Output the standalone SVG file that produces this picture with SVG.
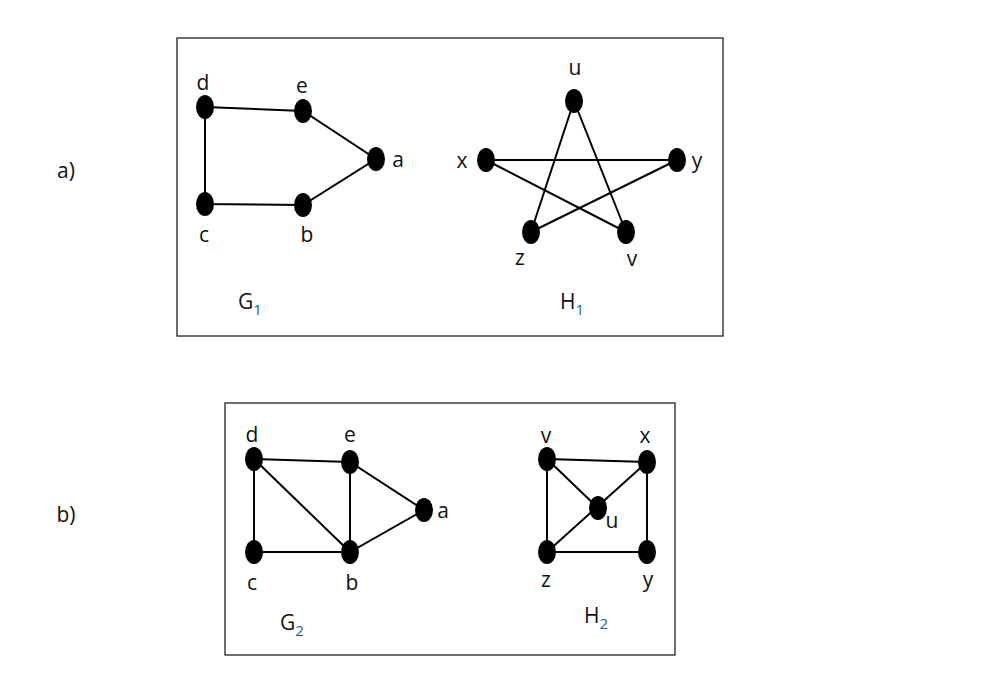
<svg xmlns="http://www.w3.org/2000/svg" width="997" height="684" viewBox="0 0 997 684">
<style>
.box{fill:none;stroke:#222;stroke-width:1.3}
.n{fill:#000}
.e{stroke:#000;stroke-width:2;fill:none}
text{font-family:"Open Sans","Liberation Sans",sans-serif;font-size:21px;fill:#111;text-anchor:middle}
.s{font-size:15px;fill:#2060a0}
</style>
<rect width="997" height="684" fill="#fff"/>
<text x="66" y="178">a)</text>
<text x="66" y="522">b)</text>
<rect class="box" x="177" y="38" width="546" height="298"/>
<rect class="box" x="225" y="403" width="450" height="252"/>
<g id="connectors">
<path class="e" d="M205,107 L303,111 L376,159 L303,205 L205,204 Z"/>
<path class="e" d="M574,101 L531,232 M574,101 L626,232 M486,160 L677,160 M486,160 L626,232 M677,160 L531,232"/>
<path class="e" d="M254,459 L350,462 L424,510 L350,552 L254,552 Z M254,459 L350,552 M350,462 L350,552"/>
<path class="e" d="M547,459 L647,462 L647,552 L547,552 Z M547,459 L598,508 M647,462 L547,552"/>
</g>
<g id="G1-d"><ellipse class="n" cx="205" cy="107" rx="9" ry="12"/><text x="203" y="90">d</text></g>
<g id="G1-e"><ellipse class="n" cx="303" cy="111" rx="9" ry="12"/><text x="302" y="93">e</text></g>
<g id="G1-a"><ellipse class="n" cx="376" cy="159" rx="9" ry="12"/><text x="398" y="167">a</text></g>
<g id="G1-b"><ellipse class="n" cx="303" cy="205" rx="9" ry="12"/><text x="307" y="242">b</text></g>
<g id="G1-c"><ellipse class="n" cx="205" cy="204" rx="9" ry="12"/><text x="204" y="242">c</text></g>
<g id="G1-label"><text x="250" y="309">G<tspan class="s" dy="6">1</tspan></text></g>
<g id="H1-u"><ellipse class="n" cx="574" cy="101" rx="9" ry="12"/><text x="575" y="75">u</text></g>
<g id="H1-x"><ellipse class="n" cx="486" cy="160" rx="9" ry="12"/><text x="462" y="168">x</text></g>
<g id="H1-y"><ellipse class="n" cx="677" cy="160" rx="9" ry="12"/><text x="697" y="168">y</text></g>
<g id="H1-z"><ellipse class="n" cx="531" cy="232" rx="9" ry="12"/><text x="520" y="265">z</text></g>
<g id="H1-v"><ellipse class="n" cx="626" cy="232" rx="9" ry="12"/><text x="632" y="266">v</text></g>
<g id="H1-label"><text x="572" y="309">H<tspan class="s" dy="6">1</tspan></text></g>
<g id="G2-d"><ellipse class="n" cx="254" cy="459" rx="9" ry="12"/><text x="252" y="442">d</text></g>
<g id="G2-e"><ellipse class="n" cx="350" cy="462" rx="9" ry="12"/><text x="350" y="442">e</text></g>
<g id="G2-a"><ellipse class="n" cx="424" cy="510" rx="9" ry="12"/><text x="443" y="518">a</text></g>
<g id="G2-c"><ellipse class="n" cx="254" cy="552" rx="9" ry="12"/><text x="252" y="590">c</text></g>
<g id="G2-b"><ellipse class="n" cx="350" cy="552" rx="9" ry="12"/><text x="352" y="590">b</text></g>
<g id="G2-label"><text x="292" y="630">G<tspan class="s" dy="6">2</tspan></text></g>
<g id="H2-v"><ellipse class="n" cx="547" cy="459" rx="9" ry="12"/><text x="546" y="443">v</text></g>
<g id="H2-x"><ellipse class="n" cx="647" cy="462" rx="9" ry="12"/><text x="645" y="443">x</text></g>
<g id="H2-u"><ellipse class="n" cx="598" cy="508" rx="9" ry="12"/><text x="612" y="528">u</text></g>
<g id="H2-z"><ellipse class="n" cx="547" cy="552" rx="9" ry="12"/><text x="546" y="587">z</text></g>
<g id="H2-y"><ellipse class="n" cx="647" cy="552" rx="9" ry="12"/><text x="648" y="587">y</text></g>
<g id="H2-label"><text x="596" y="623">H<tspan class="s" dy="6">2</tspan></text></g>
</svg>
